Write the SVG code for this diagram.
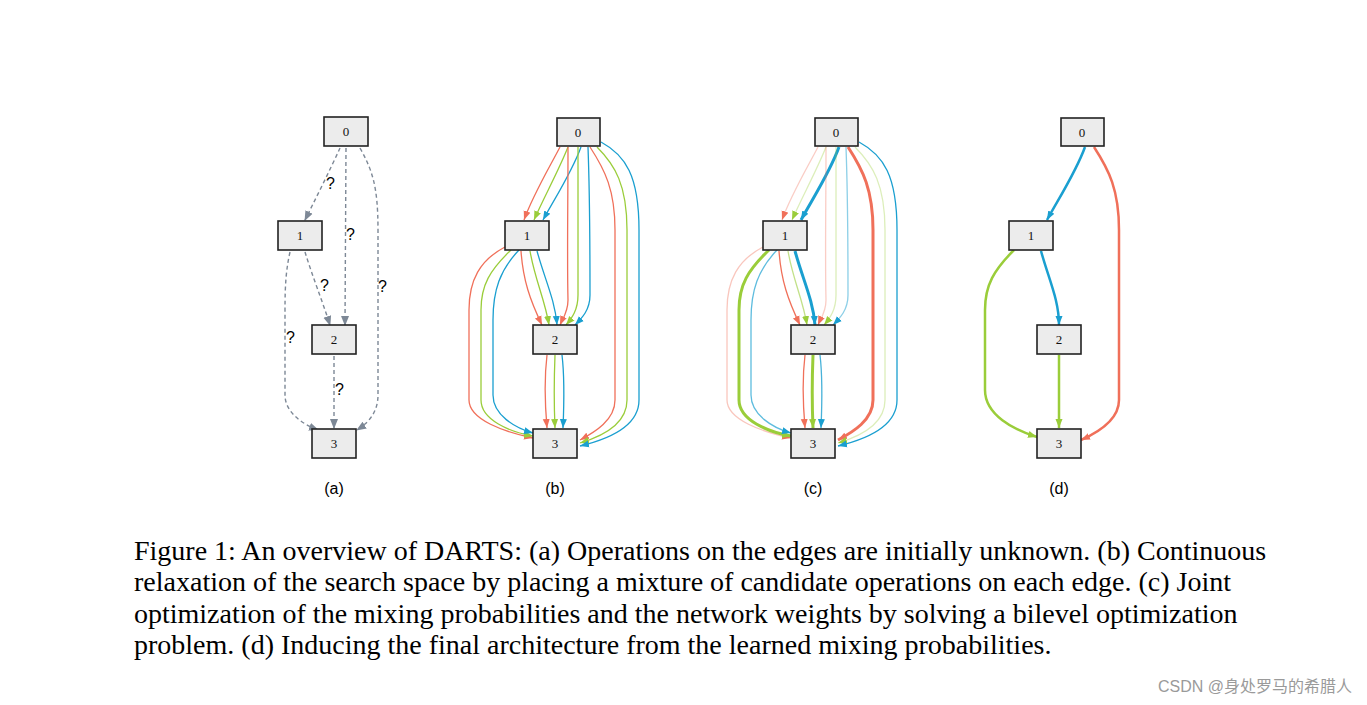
<svg xmlns="http://www.w3.org/2000/svg" width="1367" height="705" viewBox="0 0 1367 705">
<style>
.n rect{fill:#ececec;stroke:#222;stroke-width:1.6}
.n text{font-family:"Liberation Serif",serif;font-size:13px;text-anchor:middle;fill:#111}
.g,.r,.gr,.b{fill:none;stroke-width:1.3}
.g{stroke:#7d8896;stroke-width:1.4;stroke-dasharray:4 3}
.r{stroke:#f0705a}.gr{stroke:#9acd3a}.b{stroke:#1a9fd0}
.t{stroke-width:3 !important}.m{stroke-width:2.5 !important}
.q{font-family:"Liberation Sans",sans-serif;font-size:16px}
.lab{font-family:"Liberation Sans",sans-serif;font-size:16px;text-anchor:middle}
.cap{font-family:"Liberation Serif",serif;font-size:28px}
</style>
<defs>
<marker id="mg" markerUnits="userSpaceOnUse" markerWidth="10" markerHeight="10" refX="9" refY="5" orient="auto"><path d="M0,1L10,5L0,9z" fill="#7d8896"/></marker>
<marker id="mr" markerUnits="userSpaceOnUse" markerWidth="10" markerHeight="10" refX="9" refY="5" orient="auto"><path d="M0,1.5L9,5L0,8.5z" fill="#f0705a"/></marker>
<marker id="mgr" markerUnits="userSpaceOnUse" markerWidth="10" markerHeight="10" refX="9" refY="5" orient="auto"><path d="M0,1.5L9,5L0,8.5z" fill="#9acd3a"/></marker>
<marker id="mb" markerUnits="userSpaceOnUse" markerWidth="10" markerHeight="10" refX="9" refY="5" orient="auto"><path d="M0,1.5L9,5L0,8.5z" fill="#1a9fd0"/></marker>
<g id="pb">
<path class="r" marker-end="url(#mr)" d="M560,147 C548,170 533,195 524,220"/>
<path class="gr" marker-end="url(#mgr)" d="M568,147 C558,172 545,195 534,220"/>
<path class="b" marker-end="url(#mb)" d="M581,147 C572,172 555,198 543,220"/>
<path class="r" marker-end="url(#mr)" d="M568,147 C568,200 567,260 568,300 C568,312 563,318 560,325"/>
<path class="gr" marker-end="url(#mgr)" d="M578,147 C578,200 578,260 578,295 C578,310 572,318 566,325"/>
<path class="b" marker-end="url(#mb)" d="M588,147 C590,200 590,260 590,295 C590,310 582,318 575,325"/>
<path class="r" marker-end="url(#mr)" d="M521,251 C523,280 530,300 542,325"/>
<path class="gr" marker-end="url(#mgr)" d="M530,251 C535,280 545,300 549,325"/>
<path class="b" marker-end="url(#mb)" d="M537,251 C545,280 555,300 557,325"/>
<path class="r" marker-end="url(#mr)" d="M590,147 C605,170 615,190 615,230 L615,400 C615,420 595,432 580,440"/>
<path class="gr" marker-end="url(#mgr)" d="M597,147 C615,165 627,185 627,230 L627,400 C627,425 600,437 580,443"/>
<path class="b" marker-end="url(#mb)" d="M601,142 C625,155 639,175 639,230 L639,400 C639,428 605,440 580,446"/>
<path class="r" marker-end="url(#mr)" d="M505,247 C480,260 469,280 469,310 L469,400 C469,420 505,432 533,438"/>
<path class="gr" marker-end="url(#mgr)" d="M511,250 C490,270 481,285 481,310 L481,400 C481,420 510,432 533,436"/>
<path class="b" marker-end="url(#mb)" d="M519,250 C500,270 493,290 493,320 L493,395 C493,415 515,428 533,433"/>
<path class="r" marker-end="url(#mr)" d="M547,355 C544,380 545,405 547,428"/>
<path class="gr" marker-end="url(#mgr)" d="M555,355 C554,380 554,405 555,428"/>
<path class="b" marker-end="url(#mb)" d="M562,355 C565,380 564,405 563,428"/>
</g>
</defs>
<g id="connectors">
<g>
<path class="g" marker-end="url(#mg)" d="M340,148 C330,170 315,200 305,220"/>
<path class="g" marker-end="url(#mg)" d="M346,148 L345,325"/>
<path class="g" marker-end="url(#mg)" d="M360,148 C372,170 378,185 378,230 L378,395 C378,415 365,425 357,430"/>
<path class="g" marker-end="url(#mg)" d="M305,252 C312,275 322,300 330,325"/>
<path class="g" marker-end="url(#mg)" d="M290,252 C286,270 285,285 285,310 L285,395 C285,412 302,424 318,430"/>
<path class="g" marker-end="url(#mg)" d="M334,356 L334,428"/>
</g>
<use href="#pb"/>
<g transform="translate(258,0)">
<path class="r" stroke-opacity=".35" marker-end="url(#mr)" d="M560,147 C548,170 533,195 524,220"/>
<path class="gr" stroke-opacity=".35" marker-end="url(#mgr)" d="M568,147 C558,172 545,195 534,220"/>
<path class="b t" marker-end="url(#mb)" d="M581,147 C572,172 555,198 543,220"/>
<path class="r" stroke-opacity=".35" marker-end="url(#mr)" d="M568,147 C568,200 567,260 568,300 C568,312 563,318 560,325"/>
<path class="gr" stroke-opacity=".35" marker-end="url(#mgr)" d="M578,147 C578,200 578,260 578,295 C578,310 572,318 566,325"/>
<path class="b" stroke-opacity=".5" marker-end="url(#mb)" d="M588,147 C590,200 590,260 590,295 C590,310 582,318 575,325"/>
<path class="r" marker-end="url(#mr)" d="M521,251 C523,280 530,300 542,325"/>
<path class="gr" stroke-opacity=".6" marker-end="url(#mgr)" d="M530,251 C535,280 545,300 549,325"/>
<path class="b t" marker-end="url(#mb)" d="M537,251 C545,280 555,300 557,325"/>
<path class="r t" marker-end="url(#mr)" d="M590,147 C605,170 615,190 615,230 L615,400 C615,420 595,432 580,440"/>
<path class="gr" stroke-opacity=".35" marker-end="url(#mgr)" d="M597,147 C615,165 627,185 627,230 L627,400 C627,425 600,437 580,443"/>
<path class="b" marker-end="url(#mb)" d="M601,142 C625,155 639,175 639,230 L639,400 C639,428 605,440 580,446"/>
<path class="r" stroke-opacity=".4" marker-end="url(#mr)" d="M505,247 C480,260 469,280 469,310 L469,400 C469,420 505,432 533,438"/>
<path class="gr t" marker-end="url(#mgr)" d="M511,250 C490,270 481,285 481,310 L481,400 C481,420 510,432 533,436"/>
<path class="b" stroke-opacity=".7" marker-end="url(#mb)" d="M519,250 C500,270 493,290 493,320 L493,395 C493,415 515,428 533,433"/>
<path class="r" marker-end="url(#mr)" d="M547,355 C544,380 545,405 547,428"/>
<path class="gr t" marker-end="url(#mgr)" d="M555,355 C554,380 554,405 555,428"/>
<path class="b" stroke-opacity=".8" marker-end="url(#mb)" d="M562,355 C565,380 564,405 563,428"/>
</g>
<g transform="translate(504,0)">
<path class="b m" marker-end="url(#mb)" d="M581,147 C572,172 555,198 543,220"/>
<path class="b m" marker-end="url(#mb)" d="M537,251 C545,280 555,300 555,325"/>
<path class="r m" marker-end="url(#mr)" d="M590,147 C605,170 615,190 615,230 L615,400 C615,420 595,432 577,440"/>
<path class="gr m" marker-end="url(#mgr)" d="M510,250 C490,270 481,285 481,310 L481,390 C481,415 510,430 533,437"/>
<path class="gr m" marker-end="url(#mgr)" d="M555,355 L555,428"/>
</g>
</g>
<g id="a0" class="n"><rect x="324" y="117" width="44" height="29"/><text x="346" y="136">0</text></g>
<g id="a1" class="n"><rect x="278" y="221" width="44" height="29"/><text x="300" y="240">1</text></g>
<g id="a2" class="n"><rect x="312" y="325" width="44" height="29"/><text x="334" y="344">2</text></g>
<g id="a3" class="n"><rect x="312" y="429" width="44" height="29"/><text x="334" y="448">3</text></g>
<g id="b0" class="n"><rect x="557" y="118" width="43" height="28"/><text x="578" y="137">0</text></g>
<g id="b1" class="n"><rect x="505" y="221" width="44" height="29"/><text x="527" y="240">1</text></g>
<g id="b2" class="n"><rect x="533" y="325" width="44" height="29"/><text x="555" y="344">2</text></g>
<g id="b3" class="n"><rect x="533" y="429" width="44" height="29"/><text x="555" y="448">3</text></g>
<g id="c0" class="n"><rect x="815" y="118" width="43" height="28"/><text x="836" y="137">0</text></g>
<g id="c1" class="n"><rect x="763" y="221" width="44" height="29"/><text x="785" y="240">1</text></g>
<g id="c2" class="n"><rect x="791" y="325" width="44" height="29"/><text x="813" y="344">2</text></g>
<g id="c3" class="n"><rect x="791" y="429" width="44" height="29"/><text x="813" y="448">3</text></g>
<g id="d0" class="n"><rect x="1061" y="118" width="43" height="28"/><text x="1082" y="137">0</text></g>
<g id="d1" class="n"><rect x="1009" y="221" width="44" height="29"/><text x="1031" y="240">1</text></g>
<g id="d2" class="n"><rect x="1037" y="325" width="44" height="29"/><text x="1059" y="344">2</text></g>
<g id="d3" class="n"><rect x="1037" y="429" width="44" height="29"/><text x="1059" y="448">3</text></g>
<g class="q">
<text x="326" y="189">?</text><text x="346" y="240">?</text><text x="378" y="292">?</text>
<text x="320" y="291">?</text><text x="286" y="343">?</text><text x="335" y="395">?</text>
</g>
<g class="lab"><text x="334" y="494">(a)</text><text x="555" y="494">(b)</text><text x="813" y="494">(c)</text><text x="1059" y="494">(d)</text></g>
<g class="cap">
<text x="134" y="560">Figure 1: An overview of DARTS: (a) Operations on the edges are initially unknown. (b) Continuous</text>
<text x="134" y="591">relaxation of the search space by placing a mixture of candidate operations on each edge. (c) Joint</text>
<text x="134" y="623">optimization of the mixing probabilities and the network weights by solving a bilevel optimization</text>
<text x="134" y="654">problem. (d) Inducing the final architecture from the learned mixing probabilities.</text>
</g>
<text x="1352" y="692" text-anchor="end" font-family="'Liberation Sans','Noto Sans CJK SC',sans-serif" font-size="16" fill="#9a9a9a">CSDN @身处罗马的希腊人</text>
</svg>
